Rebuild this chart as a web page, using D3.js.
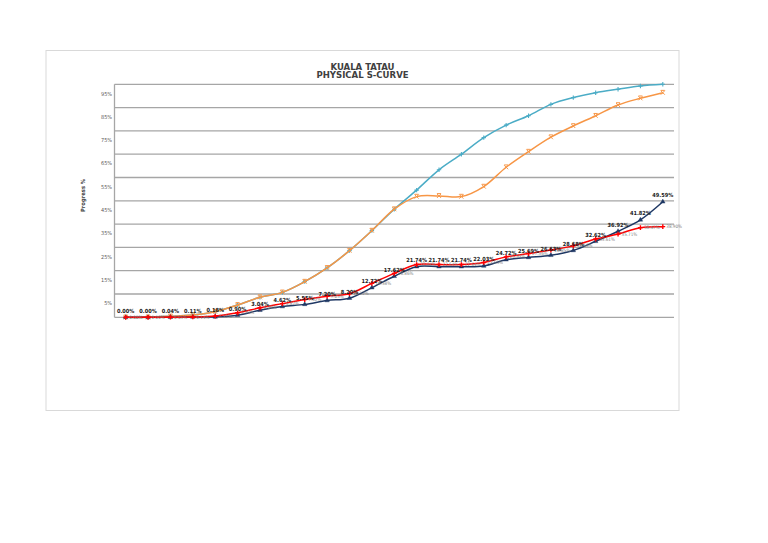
<!DOCTYPE html>
<html><head><meta charset="utf-8">
<script src="https://cdn.jsdelivr.net/npm/d3@7"></script>
<style>body{margin:0;background:#fff}svg{display:block}</style>
</head><body><svg id="c" width="768" height="543"></svg>
<script>
// ---- data ----
const categories = ["1","2","3","4","5","6","7","8","9","10","11","12","13","14","15","16","17","18","19","20","21","22","23","24","25"];
const plannedOriginal = [0,0,0.4,1.0,2.4,5.3,8.6,10.7,15.3,21.2,28.6,37.2,46.4,54.6,63.3,70.0,77.1,82.5,86.5,91.4,94.3,96.4,97.9,99.3,100];
const plannedRevised  = [0,0,0.4,1.0,2.4,5.3,8.6,10.7,15.3,21.2,28.6,37.2,46.4,51.8,52.1,51.8,56.1,64.4,71.1,77.3,82.1,86.5,91.1,94.0,96.4];
const actualRed       = [0,0,0.05,0.14,0.52,1.93,4.08,5.87,7.62,9.05,10.12,14.58,18.86,22.64,22.64,22.64,23.55,25.93,27.36,28.85,30.66,33.61,35.71,38.47,38.90];
const actualNavy      = [0,0,0.04,0.11,0.18,0.90,3.04,4.62,5.55,7.20,8.20,12.72,17.62,21.74,21.74,21.74,22.03,24.72,25.69,26.63,28.68,32.62,36.92,41.82,49.59];
const yTickValues = [5,15,25,35,45,55,65,75,85,95];
const gridValues  = [0,10,20,30,40,50,60,70,80,90,100];
const titleLines = ["KUALA TATAU","PHYSICAL S-CURVE"];
const yTitle = "Progress %";

// ---- layout ----
const svg = d3.select("#c");
const font = "'Liberation Sans Narrow','DejaVu Sans Condensed',sans-serif";
const L = 114.5, R = 674, T = 84.3, B = 317.3;

svg.append("rect").attr("x",46).attr("y",50.5).attr("width",633).attr("height",360)
  .attr("fill","#fff").attr("stroke","#d9d9d9").attr("stroke-width",1);

const x = d3.scalePoint().domain(categories).range([L,R]).padding(0.5);
const y = d3.scaleLinear().domain([0,100]).range([B,T]);

// gridlines
svg.append("g").selectAll("line").data(gridValues).join("line")
  .attr("x1",L).attr("x2",R).attr("y1",d=>y(d)).attr("y2",d=>y(d))
  .attr("stroke","#a6a6a6").attr("stroke-width",1.3);
svg.append("line").attr("x1",L).attr("x2",L).attr("y1",T).attr("y2",B)
  .attr("stroke","#a6a6a6").attr("stroke-width",1.3);

// y tick labels
svg.append("g").selectAll("text").data(yTickValues).join("text")
  .attr("x",L-2.5).attr("y",d=>y(d+1)).attr("dy","0.35em")
  .attr("text-anchor","end").attr("font-family",font).attr("font-size",5.5)
  .attr("fill","#595959").text(d=>d+"%");

// y title
svg.append("text").attr("transform","translate(85,195.5) rotate(-90)")
  .attr("text-anchor","middle").attr("font-family",font).attr("font-size",5.8)
  .attr("font-weight","bold").attr("fill","#404040").text(yTitle);

// title
svg.append("g").selectAll("text").data(titleLines).join("text")
  .attr("x",362.5).attr("y",(d,i)=>70+i*7.8)
  .attr("text-anchor","middle").attr("font-family",font).attr("font-size",9.5)
  .attr("font-weight","bold").attr("fill","#404040").text(d=>d);

const line = d3.line().x((d,i)=>x(categories[i])).y(d=>y(d)).curve(d3.curveCatmullRom.alpha(0.5));

function series(vals,color,marker){
  const g = svg.append("g");
  g.append("path").attr("d",line(vals)).attr("fill","none").attr("stroke",color).attr("stroke-width",1.5);
  g.selectAll("path.m").data(vals).join("path").attr("class","m")
    .attr("transform",(d,i)=>`translate(${x(categories[i])},${y(d)})`)
    .attr("d",marker.d).attr("fill",marker.fill?color:"none").attr("stroke",color).attr("stroke-width",marker.sw||1);
  return g;
}
const plusM = {d:"M-2.2,0H2.2M0,-2.2V2.2", sw:1.1};
const xM = {d:"M-2,-2L2,2M2,-2L-2,2M-2,-2.3H2", sw:1};
const triM = {d:d3.symbol(d3.symbolTriangle,9)(), fill:true, sw:0.4};
const redM = {d:"M-2.4,0H2.4M0,-2.4V2.4", sw:1.4};

series(plannedOriginal,"#4bacc6",plusM);
series(plannedRevised,"#f79646",xM);
series(actualNavy,"#1f3864",triM);
series(actualRed,"#ff0000",redM);

// labels: red (small gray, right)
svg.append("g").selectAll("text").data(actualRed).join("text")
  .attr("x",(d,i)=>x(categories[i])+3.5).attr("y",d=>y(d)).attr("dy","0.35em")
  .attr("font-family",font).attr("font-size",4.6).attr("fill","#7f7f7f")
  .text(d=>d.toFixed(2)+"%");
// labels: navy (bold black, above)
svg.append("g").selectAll("text").data(actualNavy).join("text")
  .attr("x",(d,i)=>x(categories[i])).attr("y",d=>y(d)-4.5)
  .attr("text-anchor","middle").attr("font-family",font).attr("font-size",5.6)
  .attr("font-weight","bold").attr("fill","#1a1a1a")
  .text(d=>d.toFixed(2)+"%");
</script></body></html>
